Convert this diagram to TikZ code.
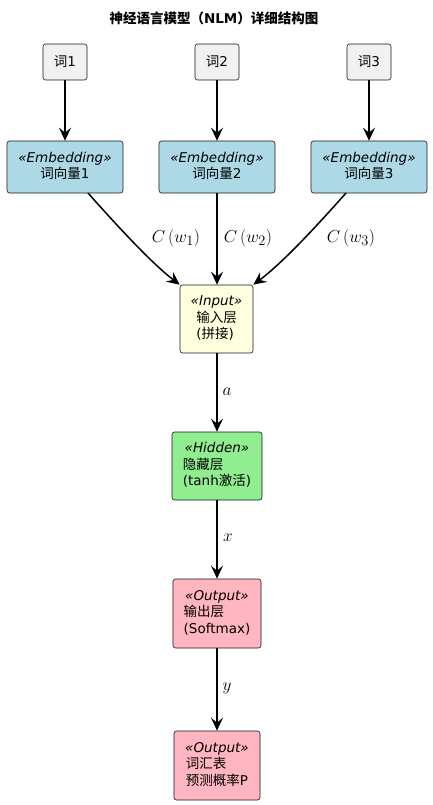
\documentclass[tikz,border=0pt]{standalone}
\usepackage{fontspec}
\setmainfont{DejaVu Sans}
\newfontfamily\cjk{Noto Sans CJK SC}
\usetikzlibrary{arrows.meta}
\definecolor{wordfill}{HTML}{F1F1F1}
\definecolor{embfill}{HTML}{ADD8E6}
\definecolor{inpfill}{HTML}{FFFFE0}
\definecolor{hidfill}{HTML}{90EE90}
\definecolor{outfill}{HTML}{FFB6C1}
\definecolor{edgecol}{HTML}{181818}
\newcommand{\zh}[1]{{\cjk #1}}
\newcommand{\stereo}[1]{{\itshape «#1»}}
\newcommand{\boxtext}[2]{\begin{tabular}{@{}c@{}}\stereo{#1}\\\begin{tabular}[t]{@{}l@{}}#2\end{tabular}\end{tabular}}
\begin{document}
\begin{tikzpicture}[x=1pt,y=-1pt,
  box/.style={draw=edgecol, line width=0.6pt, rounded corners=2.5pt, inner sep=0pt, align=center,
    font=\fontsize{13.5}{16.5}\selectfont, text=black},
  wordbox/.style={box, fill=wordfill, minimum width=44pt, minimum height=36pt},
  embbox/.style={box, fill=embfill, minimum width=116pt, minimum height=52pt},
  conn/.style={line width=1.5pt, -{Stealth[length=13pt, width=12pt, inset=5pt]}},
  lbl/.style={inner sep=0pt, font=\fontsize{19}{22}\selectfont},
  titlestyle/.style={inner sep=0pt, font=\fontsize{13.5}{16}\selectfont\bfseries}]
\useasboundingbox (0,0) rectangle (432,805);
\node[titlestyle] (title) at (214,18) {\zh{神经语言模型（}NLM\zh{）详细结构图}};

\node[wordbox] (w1) at (65,62) {\zh{词}1};
\node[wordbox] (w2) at (217,62) {\zh{词}2};
\node[wordbox] (w3) at (369,62) {\zh{词}3};

\node[embbox] (e1) at (65,167) {\boxtext{Embedding}{\zh{词向量}1}};
\node[embbox] (e2) at (217,167) {\boxtext{Embedding}{\zh{词向量}2}};
\node[embbox] (e3) at (369,167) {\boxtext{Embedding}{\zh{词向量}3}};

\node[box, fill=inpfill, minimum width=73pt, minimum height=68pt] (inp) at (216.5,319)
  {\boxtext{Input}{\zh{输入层}\\(\zh{拼接})}};
\node[box, fill=hidfill, minimum width=90pt, minimum height=68pt] (hid) at (217,466)
  {\boxtext{Hidden}{\zh{隐藏层}\\(tanh\zh{激活})}};
\node[box, fill=outfill, minimum width=88pt, minimum height=69pt] (out) at (217,613.5)
  {\boxtext{Output}{\zh{输出层}\\(Softmax)}};
\node[box, fill=outfill, minimum width=86pt, minimum height=69pt] (voc) at (217,765.5)
  {\boxtext{Output}{\zh{词汇表}\\\zh{预测概率}P}};

\draw[conn] (w1) -- (e1);
\draw[conn] (w2) -- (e2);
\draw[conn] (w3) -- (e3);

\coordinate (e1s) at (88,193);
\coordinate (e3s) at (346,193);
\draw[conn] (e1s) .. controls (112,220) and (150,262) .. (inp.north west);
\draw[conn] (e2.south) -- (e2.south |- inp.north);
\draw[conn] (e3s) .. controls (322,220) and (284,262) .. (inp.north east);

\draw[conn] (inp.south -| hid.north) -- (hid.north);
\draw[conn] (hid) -- (out);
\draw[conn] (out) -- (voc);

\node[lbl] (l1) at (176,238) {$C\left(w_1\right)$};
\node[lbl] (l2) at (248,238) {$C\left(w_2\right)$};
\node[lbl] (l3) at (351,238) {$C\left(w_3\right)$};
\node[lbl] (la) at (227,392) {$a$};
\node[lbl] (lx) at (228,538) {$x$};
\node[lbl] (ly) at (227,688) {$y$};
\end{tikzpicture}
\end{document}
